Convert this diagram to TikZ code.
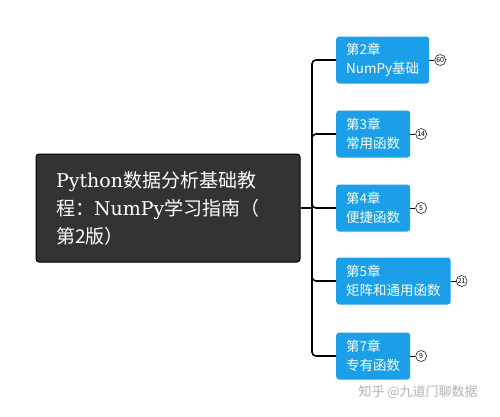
\documentclass[tikz,border=0pt]{standalone}
\usepackage{fontspec}
\setmainfont{Noto Sans CJK SC}
\newfontfamily\latinserif{DejaVu Serif}
\definecolor{chapterblue}{HTML}{1A9FE8}
\begin{document}
\begin{tikzpicture}[
  x = 1pt, y = -1pt,
  % The chapters hang off one trunk, each with a small count badge.
  topic/.style   = {draw=black, line width=1pt, fill=black!80, rounded corners=3pt,
                    text=white, align=left, font=\fontsize{19}{28}\selectfont,
                    minimum width=264pt, minimum height=108pt, text width=224pt,
                    inner xsep=20pt},
  chapter/.style = {fill=chapterblue, rounded corners=3pt, text=white, align=left,
                    font=\fontsize{13.5}{19}\selectfont, minimum height=47pt,
                    inner xsep=10pt, anchor=west},
  badge/.style   = {draw=black, circle, line width=0.5pt, inner sep=0.5pt,
                    minimum size=11pt, font=\fontsize{7}{7}\selectfont, anchor=west},
  branch/.style  = {draw=black, line width=1.6pt, rounded corners=4pt},
  twig/.style    = {draw=black, line width=0.8pt},
]
\useasboundingbox[fill=white] (0, 0) rectangle (500, 416);

% --- the book
\node[topic] (book) at (168, 208)
  {{\latinserif Python}数据分析基础教\\程：{\latinserif NumPy}学习指南（\\第2版）};
\coordinate (trunk) at (312, 208);
\draw[branch] (book.east) -- (trunk);

% --- chapters
\node[chapter] (ch2) at (336, 60)  {第2章\\NumPy基础};
\node[chapter] (ch3) at (336, 134) {第3章\\常用函数};
\node[chapter] (ch4) at (336, 208) {第4章\\便捷函数};
\node[chapter] (ch5) at (336, 281) {第5章\\矩阵和通用函数};
\node[chapter] (ch7) at (336, 356) {第7章\\专有函数};

\foreach \c in {ch2, ch3, ch4, ch5, ch7}
  \draw[branch] (trunk) |- (\c.west);

% --- counts
\node[badge] (n2) at ([xshift=5pt]ch2.east) {60};
\node[badge] (n3) at ([xshift=5pt]ch3.east) {14};
\node[badge] (n4) at ([xshift=5pt]ch4.east) {5};
\node[badge] (n5) at ([xshift=5pt]ch5.east) {21};
\node[badge] (n7) at ([xshift=5pt]ch7.east) {9};
\foreach \c/\n in {ch2/n2, ch3/n3, ch4/n4, ch5/n5, ch7/n7}
  \draw[twig] (\c.east) -- (\n.west);

\node[text=black!30, font=\fontsize{13}{13}\selectfont, anchor=west] (mark) at (355, 392)
  {知乎 @九道门聊数据};

\end{tikzpicture}
\end{document}
